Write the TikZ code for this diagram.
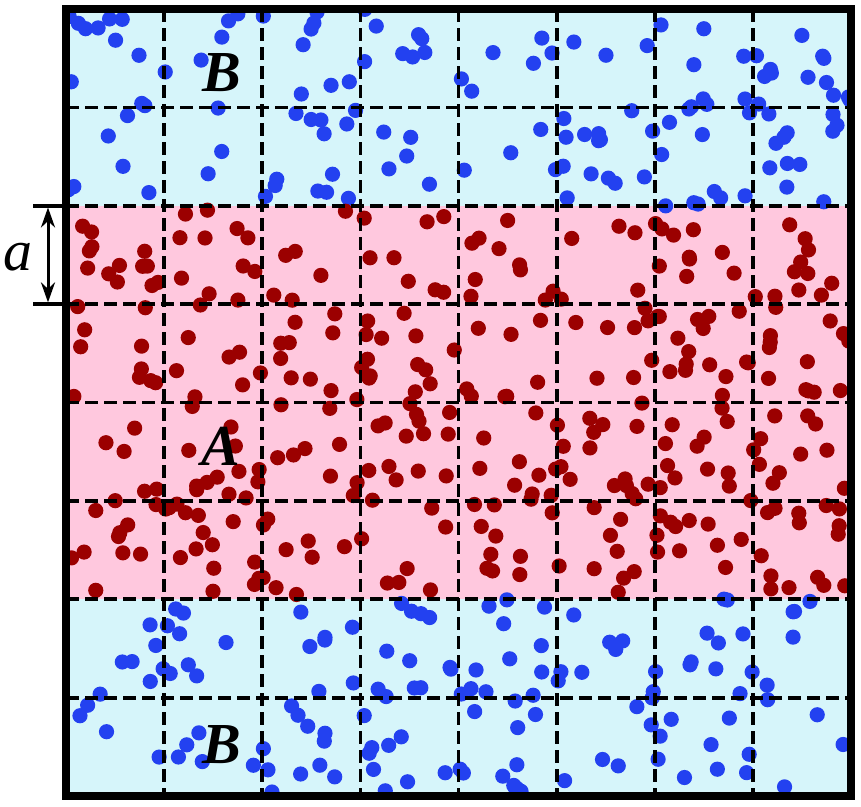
\documentclass[tikz,border=0pt]{standalone}
\usepackage{fontspec}
\setmainfont{Liberation Serif}
\usetikzlibrary{arrows.meta}
\definecolor{bgblue}{RGB}{214,245,250}
\definecolor{bgpink}{RGB}{255,200,222}
\definecolor{dotblue}{RGB}{35,65,240}
\definecolor{dotred}{RGB}{155,0,0}
\tikzset{
  bdot/.style={fill=dotblue},
  rdot/.style={fill=dotred},
  gridline/.style={line width=3.8pt, dash pattern=on 13pt off 6pt},
  frameline/.style={line width=8pt},
  biglabel/.style={font=\fontsize{58}{64}\selectfont\bfseries\itshape, inner sep=0pt},
  dimlabel/.style={font=\fontsize{58}{64}\selectfont\itshape, inner sep=0pt},
}
\begin{document}
\begin{tikzpicture}[x=1pt,y=-1pt]
\useasboundingbox (0,0) rectangle (861,806);
\fill[bgblue] (66,9) rectangle (851,206);
\fill[bgpink] (66,206) rectangle (851,599);
\fill[bgblue] (66,599) rectangle (851,796);
\begin{scope}
\clip (66,9) rectangle (851,796);
\pgfmathsetseed{4711}
\foreach \i in {1,...,130} {
  \pgfmathsetmacro\xx{66+785*rnd}
  \pgfmathsetmacro\yy{9+197*rnd}
  \fill[bdot] (\xx,\yy) circle[radius=7.6];
}
\foreach \i in {1,...,340} {
  \pgfmathsetmacro\xx{66+785*rnd}
  \pgfmathsetmacro\yy{210+385*rnd}
  \fill[rdot] (\xx,\yy) circle[radius=7.6];
}
\foreach \i in {1,...,130} {
  \pgfmathsetmacro\xx{66+785*rnd}
  \pgfmathsetmacro\yy{599+197*rnd}
  \fill[bdot] (\xx,\yy) circle[radius=7.6];
}
\end{scope}
% grid
\foreach \x in {164.1,262.3,360.4,458.5,556.6,654.8,752.9}
  \draw[gridline] (\x,9) -- (\x,796);
\foreach \y in {107.4,205.8,304.1,402.5,500.9,599.3,697.6}
  \draw[gridline] (66,\y) -- (851,\y);
% frame
\draw[frameline] (66,9) rectangle (851,796);
% dimension a
\coordinate (t1) at (33,205.8);
\coordinate (t1e) at (66,205.8);
\coordinate (t2) at (33,304.1);
\coordinate (t2e) at (66,304.1);
\draw[line width=3.5pt] (t1) -- (t1e);
\draw[line width=3.5pt] (t2) -- (t2e);
\coordinate (ar1) at (48,207.5);
\coordinate (ar2) at (48,302.4);
\draw[line width=3pt, {Stealth[length=20pt,width=14pt]}-{Stealth[length=20pt,width=14pt]}] (ar1) -- (ar2);
\node[dimlabel] (la) at (18,257) {a};
% labels
\node[biglabel] (lB1) at (222,73) {B};
\node[biglabel] (lA) at (221,446) {A};
\node[biglabel] (lB2) at (222,745) {B};
\end{tikzpicture}
\end{document}
